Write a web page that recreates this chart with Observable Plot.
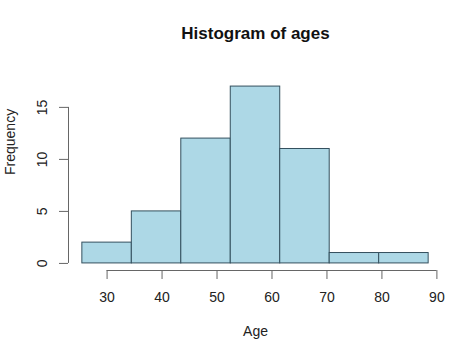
<!DOCTYPE html>
<html>
<head>
<meta charset="utf-8">
<script src="https://cdn.jsdelivr.net/npm/d3@7"></script>
<script src="https://cdn.jsdelivr.net/npm/@observablehq/plot@0.6"></script>
<style>
  html, body { margin: 0; padding: 0; background: #fff; }
  #chart svg { display: block; }
</style>
</head>
<body>
<div id="chart"></div>
<script>
// Histogram bins
const binStart = [25.5, 34.5, 43.5, 52.5, 61.5, 70.5, 79.5];
const binEnd   = [34.5, 43.5, 52.5, 61.5, 70.5, 79.5, 88.5];
const counts   = [2, 5, 12, 17, 11, 1, 1];
const xTicks = [30, 40, 50, 60, 70, 80, 90];
const yTicks = [0, 5, 10, 15];
const title = "Histogram of ages";
const xLabel = "Age";
const yLabel = "Frequency";

const bins = binStart.map((s, i) => ({x1: s, x2: binEnd[i], count: counts[i]}));

// R-style 4% axis expansion
const xr = [d3.min(binStart), d3.max(binEnd)];
const xpad = (xr[1] - xr[0]) * 0.04;
const xDomain = [xr[0] - xpad, xr[1] + xpad];
const yr = [0, d3.max(counts)];
const ypad = (yr[1] - yr[0]) * 0.04;
const yDomain = [yr[0] - ypad, yr[1] + ypad];

const W = 474, H = 351;
const mL = 68, mR = 32, mT = 79, mB = 81;
const font = "Liberation Sans, Arial, Helvetica, sans-serif";
const axisCol = "#666";

const chart = Plot.plot({
  width: W,
  height: H,
  marginLeft: mL,
  marginRight: mR,
  marginTop: mT,
  marginBottom: mB,
  style: {fontFamily: font, fontSize: "14px", color: "#222", background: "#fff"},
  x: {domain: xDomain, axis: null},
  y: {domain: yDomain, axis: null},
  marks: [
    Plot.rectY(bins, {x1: "x1", x2: "x2", y1: 0, y2: "count", fill: "#ADD8E6", stroke: "#34505e", strokeWidth: 1}),
    // x axis: line from first to last tick, ticks pointing down
    Plot.ruleY([yDomain[0]], {x1: xTicks[0], x2: xTicks[xTicks.length - 1], stroke: axisCol}),
    Plot.ruleX(xTicks, {x: d => d, y1: yDomain[0], y2: yDomain[0], stroke: axisCol, insetBottom: -9}),
    Plot.text(xTicks, {x: d => d, y: yDomain[0], dy: 27, text: d => String(d), fill: "#222", fontSize: 14}),
    // y axis: line from first to last tick, ticks pointing left
    Plot.ruleX([xDomain[0]], {y1: yTicks[0], y2: yTicks[yTicks.length - 1], stroke: axisCol}),
    Plot.ruleY(yTicks, {y: d => d, x1: xDomain[0], x2: xDomain[0], stroke: axisCol, insetLeft: -9}),
    Plot.text(yTicks, {y: d => d, x: xDomain[0], dx: -26, rotate: -90, text: d => String(d), fill: "#222", fontSize: 14}),
    // title and axis labels
    Plot.text([title], {frameAnchor: "top", lineAnchor: "middle", dy: -46, text: d => d, fontWeight: "bold", fontSize: 17, fill: "#111"}),
    Plot.text([xLabel], {frameAnchor: "bottom", lineAnchor: "middle", dy: 61, text: d => d, fontSize: 14, fill: "#222"}),
    Plot.text([yLabel], {frameAnchor: "left", lineAnchor: "middle", dx: -58, rotate: -90, text: d => d, fontSize: 14, fill: "#222"})
  ]
});
document.getElementById("chart").appendChild(chart);
</script>
</body>
</html>
